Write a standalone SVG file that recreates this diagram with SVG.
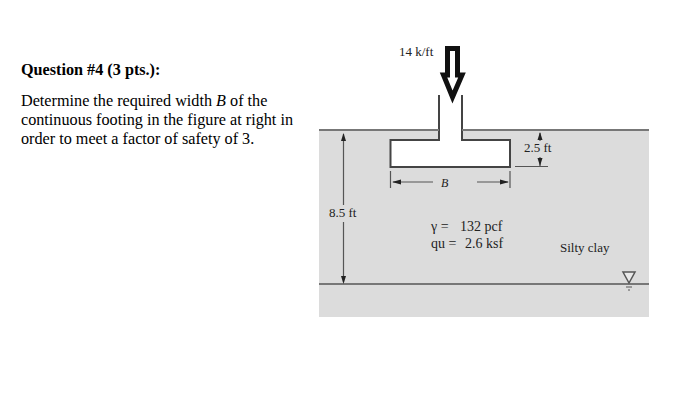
<svg xmlns="http://www.w3.org/2000/svg" width="687" height="405" viewBox="0 0 687 405">
<style>
.q{font-family:"Liberation Serif","Times New Roman",serif;font-size:16.200px;fill:#000}
.l{font-family:"Liberation Serif","Times New Roman",serif;fill:#222}
.s{fill:none;stroke:#444;stroke-width:2}
.t{fill:none;stroke:#555;stroke-width:1.200}
.g{fill:none;stroke:#777;stroke-width:2}
.h{fill:#222}
</style>
<rect width="687" height="405" fill="#fff"/>
<rect id="soil" x="319" y="130" width="330" height="187" fill="#dcdcdc"/>
<g id="question">
<text class="q" x="21" y="75" font-weight="bold">Question #4 (3 pts.):</text>
<text class="q" x="21" y="106">Determine the required width <tspan font-style="italic">B</tspan> of the</text>
<text class="q" x="21" y="125">continuous footing in the figure at right in</text>
<text class="q" x="21" y="144">order to meet a factor of safety of 3.</text>
</g>
<g id="footing">
<path d="M439 130V140H391V167H510V140H462V130Z" fill="#fff"/>
<rect x="439" y="95" width="23" height="36" fill="#fff"/>
<path class="s" d="M439 95V140H390.500V167H510V140H462V95"/>
</g>
<g id="connectors">
<path class="g" d="M319 130H439M462 130H649"/>
<path class="g" d="M319 284H649"/>
<g id="dim-b">
<path class="t" d="M390.500 171V188M510 171V188M393 182H433M477 182H508"/>
<path class="h" d="M392 182l9-2.500v5zM509 182l-9-2.500v5z"/>
</g>
<g id="dim-25">
<path class="t" d="M540 133V141M540 157V166M515 166.500H548"/>
<path class="h" d="M540 132l-2.500 8h5zM540 166l-2.500-8h5z"/>
</g>
<g id="dim-85">
<path class="t" d="M343.500 134V205M343.500 222V282"/>
<path class="h" d="M343.500 133l-2.500 8h5zM343.500 284l-2.500-8h5z"/>
</g>
</g>
<g id="load-arrow">
<path d="M447.500 48.500H457.500V75H462L452.500 97L443.500 75H447.500Z" fill="#fff" stroke="#111" stroke-width="5" stroke-linejoin="miter"/>
</g>
<g id="water-table">
<path d="M623 272H635L629 283Z" fill="#e8e8e8" stroke="#555" stroke-width="1.500"/>
<path class="t" d="M626 287H632M628 290H630"/>
</g>
<g id="labels">
<text class="l" x="399" y="56" font-size="13">14 k/ft</text>
<text class="l" x="524" y="152" font-size="13">2.5 ft</text>
<text class="l" x="441" y="187" font-size="12" font-style="italic">B</text>
<text class="l" x="329" y="217" font-size="13">8.5 ft</text>
<text class="l" x="431" y="231" font-size="14">γ = <tspan x="460">132 pcf</tspan></text>
<text class="l" x="431" y="248" font-size="14">qu = <tspan x="465">2.6 ksf</tspan></text>
<text class="l" x="560" y="252" font-size="13">Silty clay</text>
</g>
</svg>
